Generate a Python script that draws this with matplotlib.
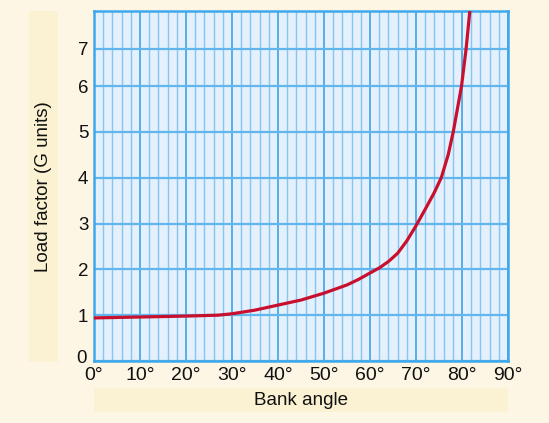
import numpy as np
import matplotlib
matplotlib.use("Agg")
import matplotlib.pyplot as plt
from matplotlib.patches import Rectangle
from matplotlib.ticker import MultipleLocator, FixedLocator
from matplotlib.transforms import ScaledTranslation

# Data
bank_angle = [0, 10, 20, 27, 30, 35, 40, 45, 50, 55, 57.5, 60, 62, 64, 66, 68,
              70, 72, 74, 75.5, 77, 78.1, 79.9, 80.9, 81.7]
load_factor = [0.94, 0.96, 0.98, 1.0, 1.03, 1.11, 1.22, 1.33, 1.48, 1.66, 1.78, 1.92,
               2.03, 2.17, 2.35, 2.62, 2.95, 3.31, 3.68, 4.0, 4.5, 5.0, 6.0, 7.0, 8.0]
x_ticks = [0, 10, 20, 30, 40, 50, 60, 70, 80, 90]
x_tick_labels = [f"{v}°" for v in x_ticks]
y_ticks = [0, 1, 2, 3, 4, 5, 6, 7]
x_label = "Bank angle"
y_label = "Load factor (G units)"

plt.rcParams['font.family'] = ['Liberation Sans', 'DejaVu Sans']

W, H = 549, 423
fig = plt.figure(figsize=(W / 100, H / 100), dpi=100)
fig.patch.set_facecolor('#fdf6e4')

def px(x0, y0, x1, y1):
    return [x0 / W, 1 - y1 / H, (x1 - x0) / W, (y1 - y0) / H]

ax = fig.add_axes(px(94, 11, 508, 361))
ax.set_facecolor('#e4f0fb')

# The printed chart compresses the spacing above 6
_src = [0, 6, 8]
_dst = [0, 6, 6 + 2 * 37.5 / 45.83]
def fwd(v):
    return np.interp(v, _src, _dst)
def inv(v):
    return np.interp(v, _dst, _src)
ax.set_yscale('function', functions=(fwd, inv))

ax.set_xlim(0, 90)
ax.set_ylim(0, 8)

ax.xaxis.set_major_locator(FixedLocator(x_ticks))
ax.xaxis.set_minor_locator(MultipleLocator(2))
ax.yaxis.set_major_locator(FixedLocator(y_ticks))
ax.yaxis.set_minor_locator(FixedLocator([]))
ax.set_xticklabels(x_tick_labels)
ax.set_yticklabels([str(v) for v in y_ticks])

ax.grid(which='major', axis='x', color='#4aaaea', linewidth=1.3)
ax.grid(which='minor', axis='x', color='#86c7f1', linewidth=1.0)
ax.grid(which='major', axis='y', color='#62b6ee', linewidth=1.6)
ax.set_axisbelow(True)

ax.tick_params(which='both', length=0)
ax.tick_params(axis='x', pad=4, labelsize=14, colors='#111111')
ax.tick_params(axis='y', pad=4, labelsize=13.5, colors='#111111')

# the "0" label sits slightly raised, as in the reference
fig.canvas.draw()
zero_lbl = ax.get_yticklabels()[0]
zero_lbl.set_transform(zero_lbl.get_transform() + ScaledTranslation(-1 / 72, 5 / 100, fig.dpi_scale_trans))

for s in ax.spines.values():
    s.set_color('#3ea8ec')
    s.set_linewidth(1.8)

ax.plot(bank_angle, load_factor, color='#c8102e', linewidth=2.3,
        solid_capstyle='butt', solid_joinstyle='round', clip_on=True, zorder=3)

# Label boxes
fig.patches.append(Rectangle((29 / W, 1 - 362 / H), 29 / W, 351 / H,
                             transform=fig.transFigure, facecolor='#faf2d2',
                             edgecolor='none', zorder=0))
fig.patches.append(Rectangle((94 / W, 1 - 412 / H), 414 / W, 24 / H,
                             transform=fig.transFigure, facecolor='#faf2d2',
                             edgecolor='none', zorder=0))
fig.text(43.5 / W, 1 - 187 / H, y_label, rotation=90, ha='center', va='center',
         fontsize=13.5, color='#111111')
fig.text(301 / W, 1 - 400 / H, x_label, ha='center', va='center',
         fontsize=13.5, color='#111111')

fig.savefig('out.png', dpi=100, facecolor=fig.get_facecolor())
